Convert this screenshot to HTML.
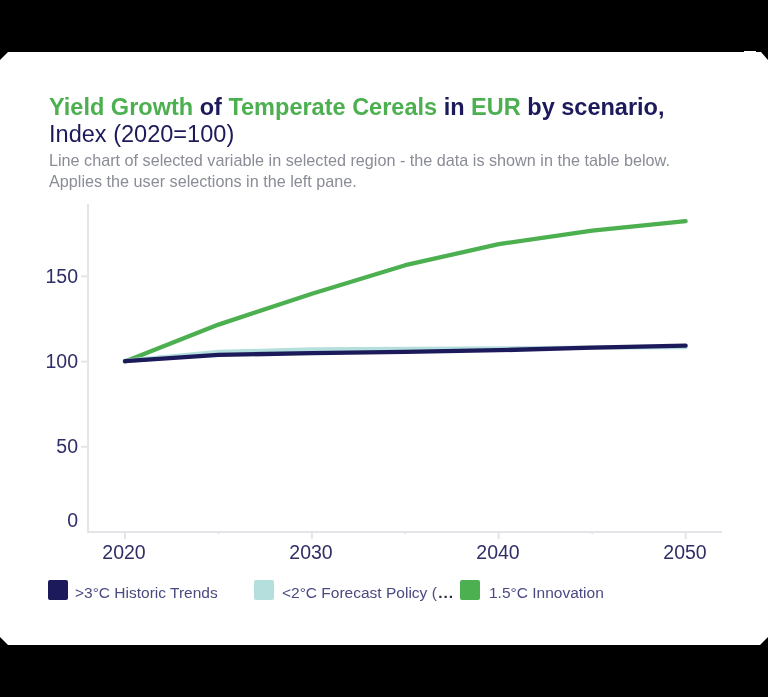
<!DOCTYPE html>
<html>
<head>
<meta charset="utf-8">
<style>
html, body { margin:0; padding:0; }
body { width:768px; height:697px; background:#000; position:relative; overflow:hidden; font-family:"Liberation Sans", sans-serif; }
.card { position:absolute; left:0; top:0; width:768px; height:697px; background:#fff;
  clip-path: polygon(0 60px, 8px 52px, 744px 52px, 744px 51px, 756px 51px, 756px 52px, 761px 52px, 768px 60px, 768px 637px, 760px 645px, 8px 645px, 0 637px); }
.t { position:absolute; white-space:pre; line-height:1; }
.title { left:49px; top:96px; font-size:23.52px; font-weight:bold; color:#1c1a5a; }
.g { color:#4caf50; }
.idx { left:49px; top:123px; font-size:23.55px; color:#1c1a5a; }
.sub { left:49px; font-size:16.2px; color:#8a8c96; }
.ylab { position:absolute; right:690px; font-size:19.5px; color:#2f2e66; line-height:1; text-align:right; transform:scaleY(1.06); }
.xlab { position:absolute; font-size:19.5px; color:#2f2e66; line-height:1; width:80px; transform:scaleY(1.06); text-align:center; }
.sw { position:absolute; width:20px; height:20px; border-radius:2px; top:580px; }
.leg { position:absolute; top:584.5px; font-size:15.5px; color:#4a4982; line-height:1; white-space:pre; }
svg { position:absolute; left:0; top:0; }
#root { position:absolute; left:0; top:0; width:768px; height:697px; background:#000; filter:blur(0.35px); }
</style>
</head>
<body>
<div id="root">
<div class="card"></div>
<div class="t title"><span class="g">Yield Growth</span> of <span class="g">Temperate Cereals</span> in <span class="g">EUR</span> by scenario,</div>
<div class="t idx">Index (2020=100)</div>
<div class="t sub" style="top:152px">Line chart of selected variable in selected region - the data is shown in the table below.</div>
<div class="t sub" style="top:173px">Applies the user selections in the left pane.</div>

<svg width="768" height="697" viewBox="0 0 768 697">
  <g stroke="#e3e5e9" stroke-width="2" fill="none">
    <line x1="88" y1="204" x2="88" y2="533"/>
    <line x1="87" y1="532" x2="722" y2="532"/>
    <line x1="81" y1="276.3" x2="88" y2="276.3"/>
    <line x1="81" y1="361.6" x2="88" y2="361.6"/>
    <line x1="81" y1="446.8" x2="88" y2="446.8"/>
    <line x1="125" y1="532" x2="125" y2="539"/>
    <line x1="311.9" y1="532" x2="311.9" y2="539"/>
    <line x1="498.7" y1="532" x2="498.7" y2="539"/>
    <line x1="685.6" y1="532" x2="685.6" y2="539"/>
    <line x1="218.5" y1="532" x2="218.5" y2="534"/>
    <line x1="405.3" y1="532" x2="405.3" y2="534"/>
    <line x1="592.2" y1="532" x2="592.2" y2="534"/>
  </g>
  <polyline fill="none" stroke="#4caf50" stroke-width="4.3" stroke-linecap="round" stroke-linejoin="round"
    points="125,361.6 218.5,324.6 311.9,293.7 405.3,265.2 498.7,244.1 592.2,230.7 685.6,221.2"/>
  <polyline fill="none" stroke="#b4dfdd" stroke-width="4.3" stroke-linecap="round" stroke-linejoin="round"
    points="125,361 218.5,352 311.9,349.5 405.3,349 498.7,348.5 592.2,347.7 685.6,347.2"/>
  <polyline fill="none" stroke="#1c1a5a" stroke-width="4.3" stroke-linecap="round" stroke-linejoin="round"
    points="125,361.2 218.5,354.8 311.9,353.2 405.3,351.9 498.7,350.2 592.2,347.7 685.6,345.6"/>
</svg>

<div class="ylab" style="top:267px">150</div>
<div class="ylab" style="top:352px">100</div>
<div class="ylab" style="top:437px">50</div>
<div class="ylab" style="top:511px">0</div>

<div class="xlab" style="left:84px; top:543px">2020</div>
<div class="xlab" style="left:271px; top:543px">2030</div>
<div class="xlab" style="left:458px; top:543px">2040</div>
<div class="xlab" style="left:645px; top:543px">2050</div>

<div class="sw" style="left:48px; background:#1c1a5a"></div>
<div class="leg" style="left:75px">&gt;3°C Historic Trends</div>
<div class="sw" style="left:254px; background:#b4dfdd"></div>
<div class="leg" style="left:282px">&lt;2°C Forecast Policy (<b style="color:#2b2b33;letter-spacing:0.9px;margin-left:1.5px">...</b></div>
<div class="sw" style="left:460px; background:#4caf50"></div>
<div class="leg" style="left:489px">1.5°C Innovation</div>
</div>
</body>
</html>
